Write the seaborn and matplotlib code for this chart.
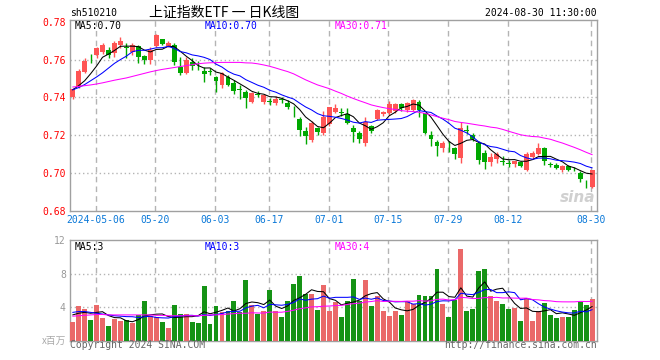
import numpy as np
import pandas as pd
import matplotlib
matplotlib.use("Agg")
import matplotlib.pyplot as plt
import seaborn as sns

# daily K-line, 2024-04-25 .. 2024-08-30 (88 trading days)
open_ = [.7400, .7457, .7536, .7595, .7624, .7642, .7651, .7637, .7677, .7668,
         .7642, .7672, .7619, .7598, .7672, .7707, .7672, .7677, .7563, .7531,
         .7589, .7562, .7541, .7538, .7507, .7466, .7510, .7476, .7445, .7431,
         .7378, .7420, .7378, .7378, .7370, .7390, .7370, .7336, .7288, .7223,
         .7174, .7236, .7211, .7259, .7325, .7322, .7311, .7236, .7211, .7161,
         .7249, .7286, .7311, .7316, .7329, .7364, .7334, .7334, .7378, .7316,
         .7202, .7166, .7131, .7151, .7135, .7082, .7228, .7202, .7158, .7104,
         .7061, .7073, .7065, .7054, .7049, .7061, .7019, .7087, .7100, .7131,
         .7046, .7044, .7014, .7039, .7024, .7003, .6961, .6926]
close = [.7445, .7541, .7593, .7590, .7660, .7677, .7624, .7690, .7700, .7663,
         .7677, .7612, .7598, .7651, .7730, .7682, .7690, .7589, .7531, .7598,
         .7566, .7559, .7522, .7534, .7489, .7527, .7466, .7436, .7441, .7396,
         .7423, .7412, .7413, .7375, .7390, .7385, .7348, .7332, .7226, .7194,
         .7265, .7215, .7299, .7347, .7343, .7318, .7264, .7218, .7181, .7271,
         .7223, .7334, .7322, .7364, .7364, .7343, .7368, .7387, .7334, .7211,
         .7179, .7145, .7158, .7147, .7102, .7236, .7224, .7179, .7070, .7061,
         .7083, .7100, .7061, .7050, .7064, .7039, .7100, .7104, .7131, .7066,
         .7042, .7026, .7036, .7018, .7020, .6968, .6957, .7014]
high = [.7452, .7549, .7607, .7630, .7668, .7690, .7665, .7700, .7721, .7690,
        .7690, .7677, .7625, .7668, .7735, .7710, .7700, .7685, .7612, .7612,
        .7607, .7590, .7563, .7555, .7515, .7536, .7520, .7490, .7465, .7440,
        .7430, .7432, .7420, .7395, .7405, .7400, .7385, .7353, .7296, .7246,
        .7275, .7246, .7330, .7350, .7364, .7343, .7343, .7255, .7220, .7299,
        .7255, .7340, .7330, .7380, .7370, .7370, .7375, .7390, .7385, .7320,
        .7222, .7175, .7170, .7170, .7140, .7270, .7255, .7210, .7170, .7120,
        .7105, .7110, .7090, .7070, .7066, .7065, .7110, .7115, .7158, .7140,
        .7060, .7053, .7045, .7045, .7035, .7010, .6965, .7018]
low = [.7390, .7450, .7530, .7580, .7610, .7630, .7610, .7615, .7660, .7607,
       .7625, .7584, .7577, .7577, .7665, .7675, .7665, .7571, .7519, .7524,
       .7545, .7545, .7483, .7520, .7431, .7450, .7460, .7420, .7390, .7344,
       .7370, .7400, .7365, .7360, .7360, .7372, .7340, .7299, .7197, .7152,
       .7165, .7200, .7200, .7250, .7316, .7300, .7260, .7166, .7160, .7141,
       .7210, .7280, .7300, .7305, .7320, .7330, .7325, .7330, .7299, .7205,
       .7145, .7092, .7110, .7112, .7075, .7055, .7205, .7170, .7050, .7020,
       .7040, .7055, .7045, .7035, .7030, .7035, .7010, .7075, .7095, .7045,
       .7035, .7020, .7005, .7010, .7010, .6955, .6922, .6920]
# volume, millions
volume = [2.29, 4.10, 3.82, 2.49, 4.30, 2.69, 1.81, 2.61, 2.37, 2.49,
          2.17, 3.09, 4.78, 3.01, 2.89, 2.29, 1.57, 4.22, 3.17, 3.21,
          2.29, 2.17, 6.51, 2.01, 4.10, 3.41, 3.57, 4.70, 3.41, 7.19,
          4.30, 3.17, 3.57, 6.10, 3.57, 2.89, 4.70, 6.79, 7.71, 5.62,
          5.62, 3.69, 6.63, 3.61, 4.62, 2.89, 4.70, 7.31, 4.78, 7.19,
          4.18, 5.30, 3.57, 3.01, 3.57, 3.09, 4.70, 4.38, 5.50, 5.30,
          5.30, 8.51, 4.38, 2.89, 4.90, 10.92, 3.57, 3.82, 8.31, 8.51,
          5.38, 4.78, 4.38, 3.82, 3.98, 2.37, 5.10, 2.37, 3.57, 4.50,
          3.09, 2.69, 2.89, 2.89, 3.69, 4.62, 4.30, 5.02]

# moving-average values before enough history exists
ma5_head = [.7440, .7462, .7488, .7525]
ma10_head = [.7440, .7452, .7468, .7488, .7508, .7530, .7555, .7580, .7600]
ma30_head = [.7455, .7458, .7462, .7466, .7471, .7477, .7484, .7491, .7497, .7503,
             .7511, .7519, .7527, .7535, .7542, .7548, .7553, .7558, .7563, .7568,
             .7573, .7578, .7581, .7583, .7584, .7585, .7585, .7585, .7585]
vma5_head = [3.1, 3.3, 3.4, 3.3]
vma10_head = [3.4, 3.5, 3.5, 3.4, 3.3, 3.2, 3.1, 3.0, 2.95]
vma30_head = [2.95, 3.0, 3.05, 3.1, 3.15, 3.15, 3.1, 3.1, 3.1, 3.1,
              3.1, 3.1, 3.1, 3.1, 3.05, 3.05, 3.0, 3.0, 3.0, 3.0,
              3.0, 3.0, 3.05, 3.1, 3.1, 3.15, 3.2, 3.25, 3.3]

tick_idx = [4, 14, 24, 33, 43, 53, 63, 73, 87]
tick_labels = ["2024-05-06", "05-20", "06-03", "06-17", "07-01",
               "07-15", "07-29", "08-12", "08-30"]

RED = "#ff5454"
GREEN = "#00a800"
GRID = "#b4b4b4"
FRAME = "#a0a0a0"
LW = 0.75


def moving(values, n, head):
    out = pd.Series(values).rolling(n).mean().to_numpy()
    out[:len(head)] = head
    return out


df = pd.DataFrame({"open": open_, "close": close, "high": high,
                   "low": low, "vol": volume})
df["idx"] = np.arange(len(df))
df["dir"] = np.where(df["close"] >= df["open"], "up", "down")
df["ma5"] = moving(close, 5, ma5_head)
df["ma10"] = moving(close, 10, ma10_head)
df["ma30"] = moving(close, 30, ma30_head)
df["vma5"] = moving(volume, 5, vma5_head)
df["vma10"] = moving(volume, 10, vma10_head)
df["vma30"] = moving(volume, 30, vma30_head)

sns.set_style("white")
plt.rcParams["font.family"] = ["DejaVu Sans Mono"]
MONO = 7

fig = plt.figure(figsize=(6.6, 3.6), dpi=100)
W, H = 660, 360
ax = fig.add_axes([70 / W, 1 - 211 / H, 527 / W, 191 / H])
axv = fig.add_axes([70 / W, 1 - 341 / H, 527 / W, 101 / H])

xlim = (-0.45, 87.8)
for a in (ax, axv):
    for s in a.spines.values():
        s.set_color(FRAME)
        s.set_linewidth(1)
    a.set_xlim(*xlim)
    for t in tick_idx:
        a.axvline(t - 0.15, color=GRID, lw=1, ls=(0, (4, 3)), zorder=0)

# candles
cols = np.where(df["dir"] == "up", RED, GREEN)
ax.vlines(df["idx"], df["low"], df["high"], colors=cols, lw=1, zorder=2)
body = np.maximum((df["close"] - df["open"]).abs(), 0.0004)
ax.bar(df["idx"], body, bottom=np.minimum(df["open"], df["close"]),
       width=0.82, color=cols, linewidth=0, zorder=3)
sns.lineplot(x=df["idx"], y=df["ma5"], ax=ax, color="black", lw=LW, zorder=4)
sns.lineplot(x=df["idx"], y=df["ma10"], ax=ax, color="#0000ff", lw=LW, zorder=4)
sns.lineplot(x=df["idx"], y=df["ma30"], ax=ax, color="#ff00ff", lw=LW, zorder=4)

ax.set_ylim(0.68, 0.7809)
ax.set_yticks([0.68, 0.70, 0.72, 0.74, 0.76, 0.78])
ax.set_yticklabels(["0.68", "0.70", "0.72", "0.74", "0.76", "0.78"])
for yv in [0.70, 0.72, 0.74, 0.76]:
    ax.axhline(yv, color=GRID, lw=1, ls=(0, (1, 2)), zorder=0)
ax.set_xticks([t - 0.15 for t in tick_idx])
ax.set_xticklabels(tick_labels)
ax.tick_params(axis="y", length=0, pad=3, labelsize=MONO, labelcolor="#ff0000")
ax.tick_params(axis="x", length=0, pad=3, labelsize=MONO, labelcolor="#0a78d8")
ax.set_xlabel("")
ax.set_ylabel("")

# volume
sns.barplot(data=df, x="idx", y="vol", hue="dir", palette={"up": RED, "down": GREEN},
            width=0.82, dodge=False, native_scale=True, legend=False,
            errorbar=None, linewidth=0, ax=axv, zorder=3)
sns.lineplot(x=df["idx"], y=df["vma5"], ax=axv, color="black", lw=LW, zorder=4)
sns.lineplot(x=df["idx"], y=df["vma10"], ax=axv, color="#0000ff", lw=LW, zorder=4)
sns.lineplot(x=df["idx"], y=df["vma30"], ax=axv, color="#ff00ff", lw=LW, zorder=4)
axv.set_xlim(*xlim)
axv.set_ylim(0, 12)
axv.set_yticks([4, 8, 12])
axv.set_yticklabels(["4", "8", "12"])
for yv in [4, 8]:
    axv.axhline(yv, color=GRID, lw=1, ls=(0, (1, 2)), zorder=0)
axv.set_xticks([])
axv.tick_params(axis="y", length=0, pad=3, labelsize=MONO, labelcolor="#999999")
axv.set_xlabel("")
axv.set_ylabel("")


def ftext(x, y, s, **kw):
    fig.text(x / W, 1 - y / H, s, va="center", **kw)


ftext(70, 13.5, "sh510210", fontsize=MONO, color="black")
ftext(224, 12.5, "上证指数ETF 一 日K线图", fontsize=10, color="black", ha="center",
      family=["Noto Sans CJK SC", "DejaVu Sans"])
ftext(597, 13, "2024-08-30 11:30:00", fontsize=MONO, color="black", ha="right")

ftext(75, 26, "MA5:0.70", fontsize=MONO, color="black")
ftext(205, 26, "MA10:0.70", fontsize=MONO, color="#0000ff")
ftext(335, 26, "MA30:0.71", fontsize=MONO, color="#ff00ff")
ftext(75, 246.5, "MA5:3", fontsize=MONO, color="black")
ftext(205, 246.5, "MA10:3", fontsize=MONO, color="#0000ff")
ftext(335, 246.5, "MA30:4", fontsize=MONO, color="#ff00ff")

ftext(66, 341, "x百万", fontsize=7, color="#aaaaaa", ha="right",
      family=["Noto Sans CJK SC", "DejaVu Sans"])
ftext(70, 345.5, "Copyright 2024 SINA.COM", fontsize=MONO, color="#666666")
ftext(597, 345.5, "http://finance.sina.com.cn", fontsize=MONO, color="#666666", ha="right")
ftext(578, 197, "sina", fontsize=11, color="#d0d0d0", ha="center",
      style="italic", weight="bold", family=["DejaVu Sans"])

fig.savefig("out.png", dpi=100)
